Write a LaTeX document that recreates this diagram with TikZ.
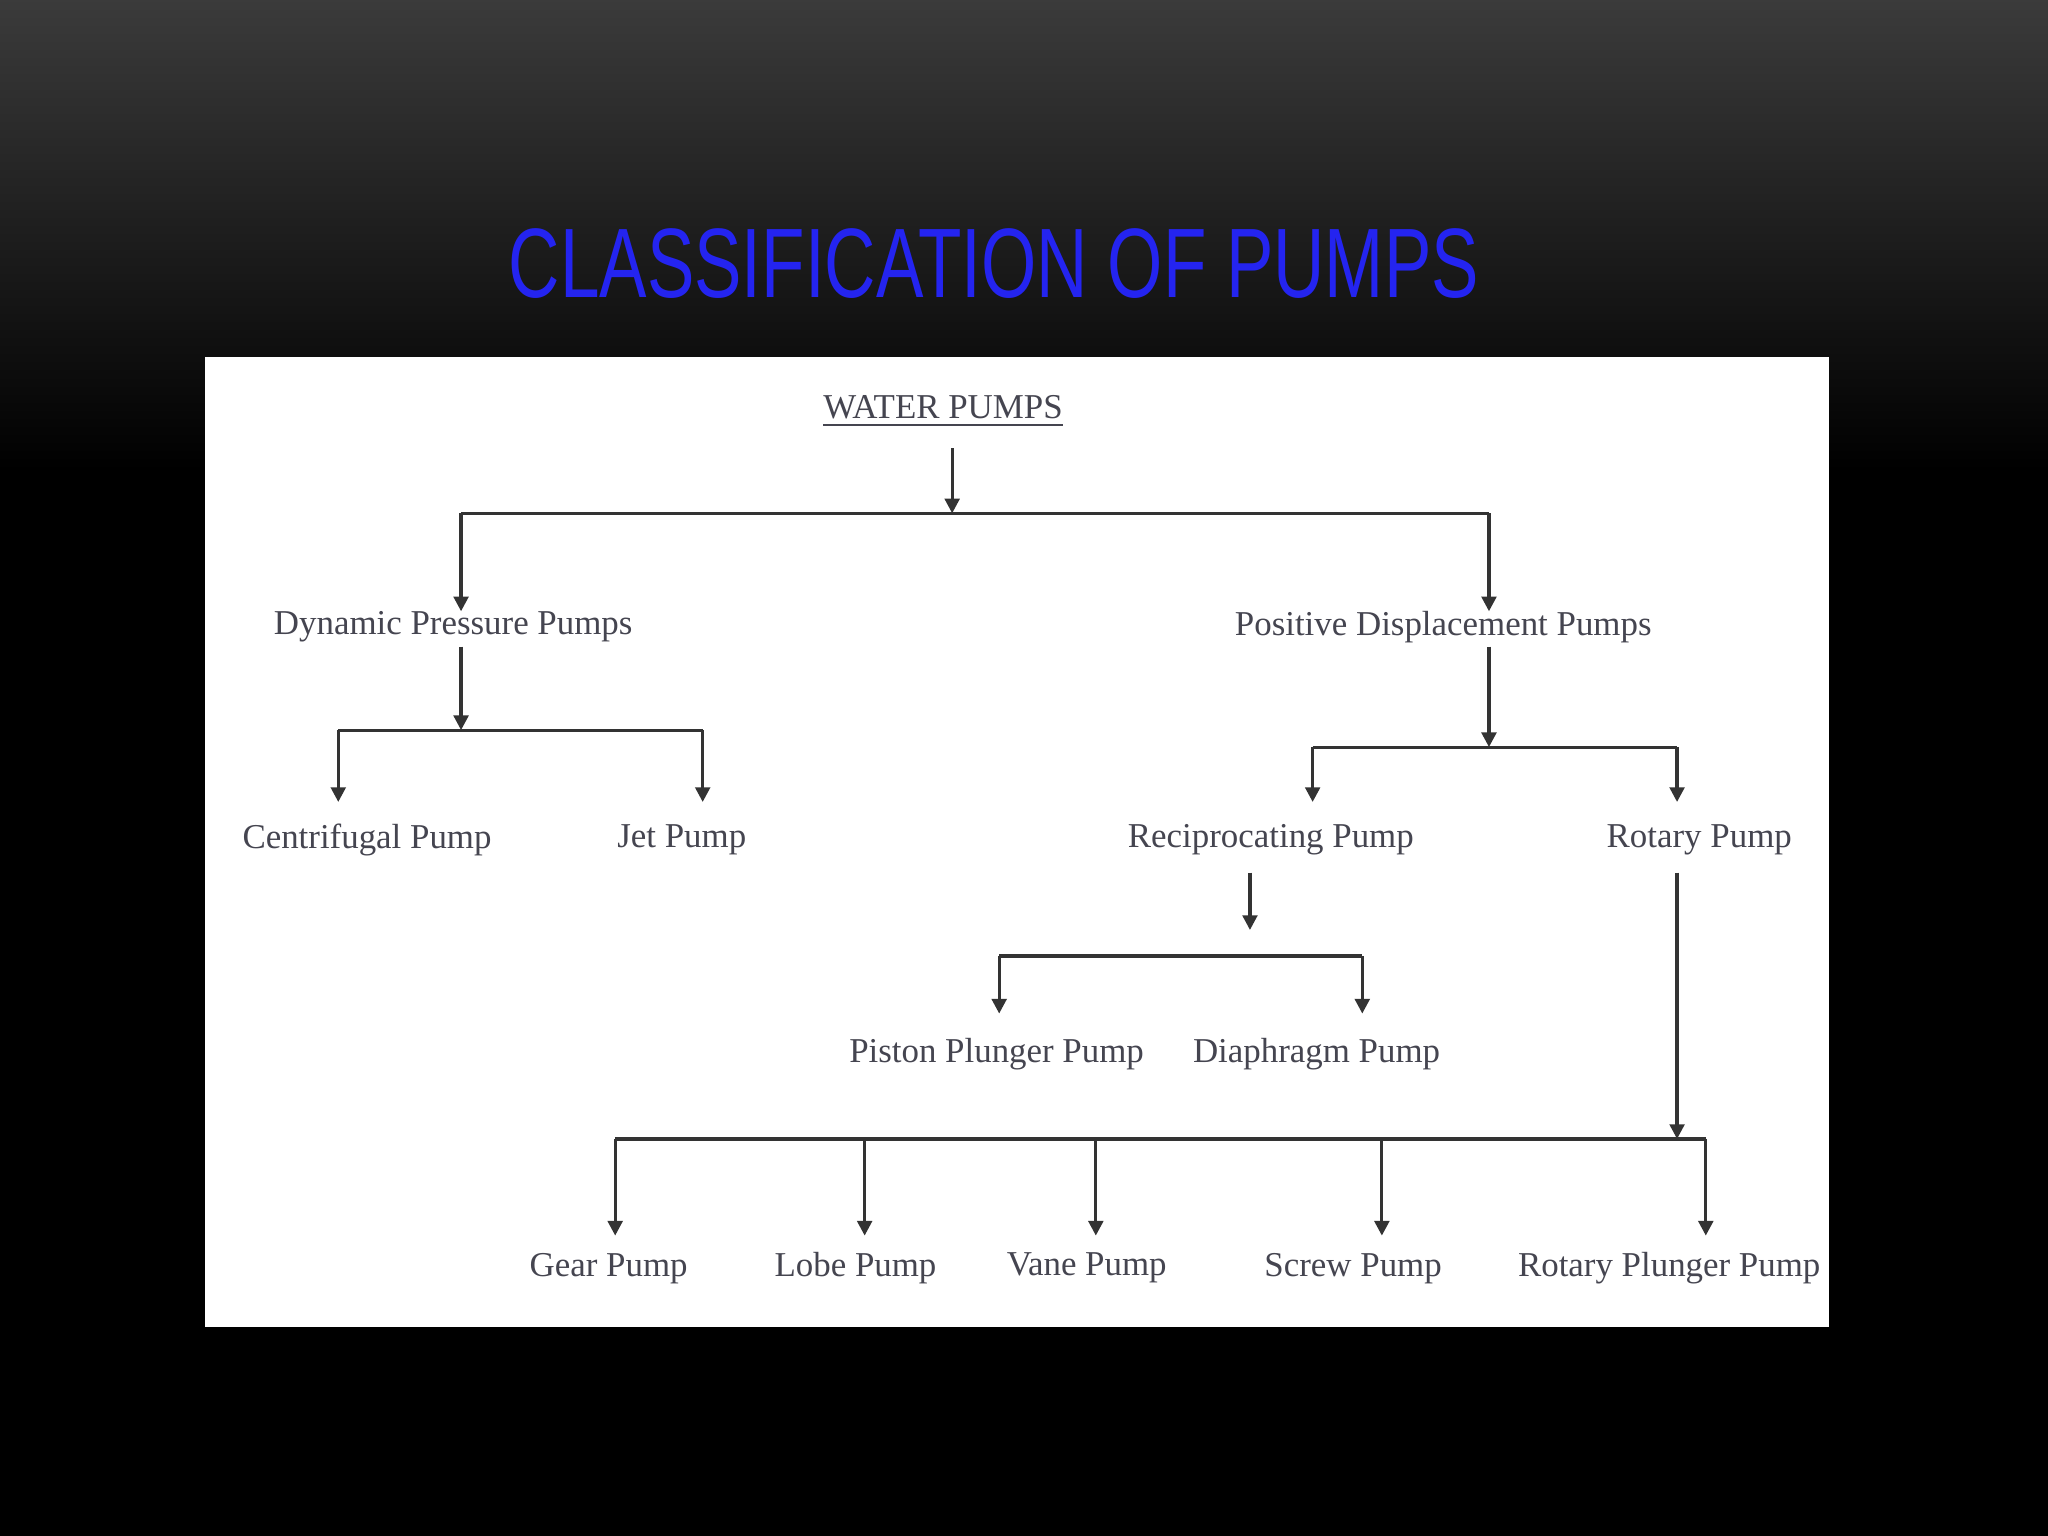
\documentclass[tikz,border=0pt]{standalone}
\usepackage{fontspec}
\setmainfont{Liberation Serif}
\newfontfamily\titlefont{Liberation Sans}[FakeStretch=0.72]
\usetikzlibrary{arrows.meta}
\definecolor{txt}{HTML}{454550}
\definecolor{ttl}{HTML}{2424F0}
\begin{document}
\begin{tikzpicture}[x=0.1mm,y=-0.1mm,
  lbl/.style={text=txt,font=\fontsize{7.6pt}{9pt}\selectfont,inner sep=1pt},
  ln/.style={line width=0.7pt,black!80},
  ar/.style={ln,-{Triangle[length=3.2pt,width=3.2pt]}}]
\useasboundingbox (0,0) rectangle (1568,1176);
\shade[top color=black!77,bottom color=black] (0,0) rectangle (1568,360);
\fill[black] (0,359) rectangle (1568,1176);
\node[text=ttl,font=\titlefont\fontsize{21.5pt}{24pt}\selectfont] (title) at (761,202) {CLASSIFICATION OF PUMPS};
\fill[white] (157,273) rectangle (1400,1016);
\node[lbl] (wp) at (722,315) {\underline{WATER PUMPS}};
\node[lbl] (dp) at (347,480) {Dynamic Pressure Pumps};
\node[lbl] (pd) at (1105,480) {Positive Displacement Pumps};
\node[lbl] (cp) at (281,643) {Centrifugal Pump};
\node[lbl] (jp) at (522,643) {Jet Pump};
\node[lbl] (rp) at (973,643) {Reciprocating Pump};
\node[lbl] (ro) at (1301,643) {Rotary Pump};
\node[lbl] (pp) at (763,807) {Piston Plunger Pump};
\node[lbl] (dg) at (1008,807) {Diaphragm Pump};
\node[lbl] (gp) at (466,971) {Gear Pump};
\node[lbl] (lp) at (655,971) {Lobe Pump};
\node[lbl] (vp) at (832,971) {Vane Pump};
\node[lbl] (sp) at (1036,971) {Screw Pump};
\node[lbl] (rpp) at (1278,971) {Rotary Plunger Pump};
% level 1
\coordinate (a0) at (729,343); \coordinate (a1) at (729,393);
\draw[ar] (a0) -- (a1);
\coordinate (b1) at (353,393); \coordinate (b2) at (1140,393);
\draw[ln] (b1) -- (b2);
\draw[ar] (b1) -- (353,468);
\draw[ar] (b2) -- (1140,468);
% dynamic
\coordinate (c0) at (353,495); \coordinate (c1) at (353,559);
\draw[ar] (c0) -- (c1);
\coordinate (c2) at (259,559); \coordinate (c3) at (538,559);
\draw[ln] (c2) -- (c3);
\draw[ar] (c2) -- (259,614);
\draw[ar] (c3) -- (538,614);
% positive
\coordinate (d0) at (1140,495); \coordinate (d1) at (1140,572);
\draw[ar] (d0) -- (d1);
\coordinate (d2) at (1005,572); \coordinate (d3) at (1284,572);
\draw[ln] (d2) -- (d3);
\draw[ar] (d2) -- (1005,614);
\draw[ar] (d3) -- (1284,614);
% reciprocating
\coordinate (e0) at (957,668); \coordinate (e1) at (957,712);
\draw[ar] (e0) -- (e1);
\coordinate (e2) at (765,732); \coordinate (e3) at (1043,732);
\draw[ln] (e2) -- (e3);
\draw[ar] (e2) -- (765,776);
\draw[ar] (e3) -- (1043,776);
% rotary
\coordinate (f0) at (1284,668); \coordinate (f1) at (1284,872);
\draw[ar] (f0) -- (f1);
\coordinate (f2) at (471,872); \coordinate (f3) at (1306,872);
\draw[ln] (f2) -- (f3);
\foreach \x in {471,662,839,1058,1306} \draw[ar] (\x,872) -- (\x,946);
\end{tikzpicture}
\end{document}
